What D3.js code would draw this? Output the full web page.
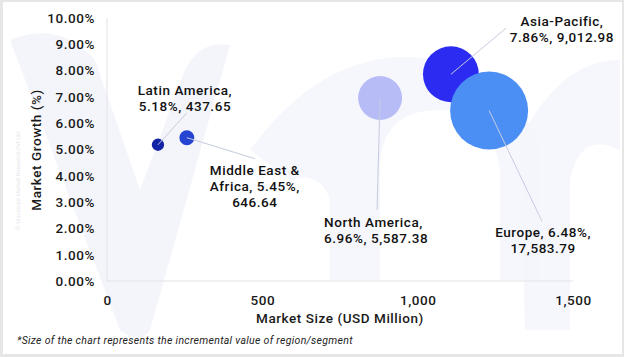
<!DOCTYPE html>
<html><head><meta charset="utf-8">
<script src="https://cdn.jsdelivr.net/npm/d3@7"></script>
<style>
html,body{margin:0;padding:0;background:#fff;}
svg{display:block;font-family:Roboto,sans-serif;}
</style></head>
<body>
<script>
// ---- data ----
const regions = ["Latin America","Middle East & Africa","North America","Asia-Pacific","Europe"];
const marketSize = [164, 257, 879, 1107, 1230];          // x (USD Million)
const marketGrowth = [5.18, 5.45, 6.96, 7.86, 6.48];     // y (%)
const incrementalValue = [437.65, 646.64, 5587.38, 9012.98, 17583.79]; // bubble size
const labelLines = [
  ["Latin America,","5.18%, 437.65"],
  ["Middle East &","Africa, 5.45%,","646.64"],
  ["North America,","6.96%, 5,587.38"],
  ["Asia-Pacific,","7.86%, 9,012.98"],
  ["Europe, 6.48%,","17,583.79"]
];
const xTicks = [0, 500, 1000, 1500];
const yTicks = [0,1,2,3,4,5,6,7,8,9,10];
const colors = ["#1323a6","#2544d2","#b7bcf7","#2b2bf2","#4b8ff5"];

// ---- layout (pixel offsets for callouts, relative to bubble centre) ----
const callout = [
  {lx:29, ly:-32, tx:27, ty:-50, anchor:"middle"},
  {lx:68, ly:21, tx:68, ty:37, anchor:"middle"},
  {lx:-3, ly:112, tx:-56, ty:129, anchor:"start"},
  {lx:55, ly:-46, tx:111, ty:-48, anchor:"middle"},
  {lx:53, ly:111, tx:54, ty:126, anchor:"middle"}
];

const W = 624, H = 357;
const FF = "Roboto, sans-serif", FS = 13.5, FW = 500, LS = 0.55;
const svg = d3.select("body").append("svg").attr("width", W).attr("height", H);

// frame
svg.append("rect").attr("x",0).attr("y",0).attr("width",W).attr("height",H).attr("fill","#e6e6e6");
svg.append("rect").attr("x",3).attr("y",2).attr("width",W-5).attr("height",H-5).attr("fill","#fff");

// faint watermark
const wm = svg.append("g").attr("fill","#f4f5fb");
wm.append("path").attr("d","M10,40 Q60,20 95,60 L140,190 L185,70 Q200,40 230,45 L150,330 Q140,345 120,330 Z");
wm.append("path").attr("d","M250,150 Q330,40 440,60 Q520,80 540,150 L540,280 L500,280 L500,170 Q490,110 440,110 Q380,110 380,170 L380,280 L330,280 L330,200 Q320,170 290,180 Z").attr("opacity",0.8);
wm.append("path").attr("d","M520,140 Q560,60 620,60 L620,150 Q580,130 570,180 L570,330 L525,330 Z").attr("opacity",0.8);

const x = d3.scaleLinear().domain([0,1500]).range([107,573]);
const y = d3.scaleLinear().domain([0,10]).range([281,18]);
const r = d3.scaleSqrt().domain([0, d3.max(incrementalValue)]).range([0,39]);

function styleText(sel){
  return sel.attr("font-family",FF).attr("font-size",FS).attr("font-weight",FW)
    .attr("letter-spacing",LS).attr("fill","#1a1a1a");
}

// axes lines
svg.append("line").attr("x1",x(0)).attr("x2",x(0)).attr("y1",y(10)).attr("y2",y(0)).attr("stroke","#e3e3e8").attr("stroke-width",1);
svg.append("line").attr("x1",x(0)).attr("x2",x(1500)).attr("y1",y(0)).attr("y2",y(0)).attr("stroke","#e3e3e8").attr("stroke-width",1);

// y tick labels
const yAxis = d3.axisLeft(y).tickValues(yTicks).tickSize(0).tickPadding(12).tickFormat(d => d.toFixed(2)+"%");
const gy = svg.append("g").attr("transform",`translate(${x(0)},0)`).call(yAxis);
gy.select(".domain").remove();
styleText(gy.selectAll("text"));

// x tick labels
const xAxis = d3.axisBottom(x).tickValues(xTicks).tickSize(0).tickPadding(14).tickFormat(d3.format(","));
const gx = svg.append("g").attr("transform",`translate(0,${y(0)})`).call(xAxis);
gx.select(".domain").remove();
styleText(gx.selectAll("text"));

// axis titles
styleText(svg.append("text").attr("transform","translate(41,150) rotate(-90)").attr("text-anchor","middle")).text("Market Growth (%)");
styleText(svg.append("text").attr("x",340).attr("y",323).attr("text-anchor","middle")).text("Market Size (USD Million)");

// copyright faint
svg.append("text").attr("transform","translate(20,230) rotate(-90)").attr("font-size",6).attr("fill","#e6e6ec")
  .text("© Maximize Market Research Pvt Ltd");

// footnote
svg.append("text").attr("x",17).attr("y",344).attr("font-family",FF).attr("font-size",10.5).attr("letter-spacing",0.3)
  .attr("font-style","italic").attr("fill","#222")
  .text("*Size of the chart represents the incremental value of region/segment");

// bubbles
const idx = d3.range(regions.length);
svg.append("g").selectAll("circle").data(idx).join("circle")
  .attr("cx", i => x(marketSize[i])).attr("cy", i => y(marketGrowth[i]))
  .attr("r", i => r(incrementalValue[i])).attr("fill", i => colors[i]);

// leader lines
svg.append("g").selectAll("line").data(idx).join("line")
  .attr("x1", i => x(marketSize[i])).attr("y1", i => y(marketGrowth[i]))
  .attr("x2", i => x(marketSize[i]) + callout[i].lx).attr("y2", i => y(marketGrowth[i]) + callout[i].ly)
  .attr("stroke","#c5cbe0").attr("stroke-width",1);

// labels (one text element per line)
const labG = svg.append("g");
idx.forEach(i => {
  labelLines[i].forEach((s,k) => {
    styleText(labG.append("text")
      .attr("x", x(marketSize[i]) + callout[i].tx)
      .attr("y", y(marketGrowth[i]) + callout[i].ty + k*16)
      .attr("text-anchor", callout[i].anchor))
      .attr("fill","#111")
      .text(s);
  });
});
</script>
</body></html>
